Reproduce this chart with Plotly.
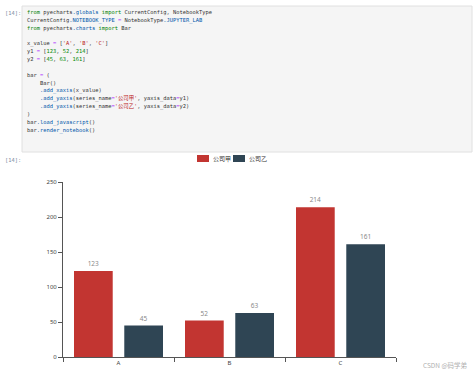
import plotly.graph_objects as go

# ---- data ----
x_value = ['A', 'B', 'C']
series_names = ['公司甲', '公司乙']
y1 = [123, 52, 214]
y2 = [45, 63, 161]
series_colors = ['#c23531', '#2f4554']
y_ticks = [0, 50, 100, 150, 200, 250]

W, H = 474, 372
L, R, T, B = 63, 396, 182, 357  # plot area in pixels


def px(x):
    return (x - L) / (R - L)


def py(y):
    return (B - y) / (B - T)


fig = go.Figure()
for name, vals, col in zip(series_names, [y1, y2], series_colors):
    fig.add_bar(
        x=x_value, y=vals, name=name, marker=dict(color=col, line=dict(width=0)),
        text=[str(v) for v in vals], textposition='outside',
        textfont=dict(size=6.5, color='#8a8a8a', family='Noto Sans, sans-serif'),
        cliponaxis=False, showlegend=False,
    )

MONO = 'DejaVu Sans Mono, Noto Sans CJK SC, monospace'


def K(t):
    return f'<span style="color:#008000">{t}</span>'


def P(t):
    return f'<span style="color:#0055aa">{t}</span>'


def O(t):
    return f'<span style="color:#aa22ff">{t}</span>'


def S(t):
    return f'<span style="color:#ba2121">{t}</span>'


def N(t):
    return f'<span style="color:#008800">{t}</span>'


code_lines = [
    (0, K('from') + ' pyecharts' + P('.globals') + ' ' + K('import') + ' CurrentConfig, NotebookType'),
    (0, 'CurrentConfig' + P('.NOTEBOOK_TYPE') + ' ' + O('=') + ' NotebookType' + P('.JUPYTER_LAB')),
    (0, K('from') + ' pyecharts' + P('.charts') + ' ' + K('import') + ' Bar'),
    None,
    (0, 'x_value ' + O('=') + ' [' + ', '.join(S(f"'{c}'") for c in x_value) + ']'),
    (0, 'y1 ' + O('=') + ' [' + ', '.join(N(str(v)) for v in y1) + ']'),
    (0, 'y2 ' + O('=') + ' [' + ', '.join(N(str(v)) for v in y2) + ']'),
    None,
    (0, 'bar ' + O('=') + ' ('),
    (1, 'Bar()'),
    (1, P('.add_xaxis') + '(x_value)'),
    (1, P('.add_yaxis') + '(series_name' + O('=') + S(f"'{series_names[0]}'") + ', yaxis_data' + O('=') + 'y1)'),
    (1, P('.add_yaxis') + '(series_name' + O('=') + S(f"'{series_names[1]}'") + ', yaxis_data' + O('=') + 'y2)'),
    (0, ')'),
    (0, 'bar' + P('.load_javascript') + '()'),
    (0, 'bar' + P('.render_notebook') + '()'),
]

shapes = []
annotations = []

# code cell background
shapes.append(dict(type='rect', xref='paper', yref='paper',
                   x0=px(22), x1=px(472), y0=py(6), y1=py(152),
                   fillcolor='#f5f5f5', line=dict(color='#e0e0e0', width=1), layer='below'))

for i, item in enumerate(code_lines):
    if item is None:
        continue
    ind, txt = item
    yy = 12.7 + i * 7.82
    annotations.append(dict(xref='paper', yref='paper', x=px(25 + ind * 13.2), y=py(yy),
                            xanchor='left', yanchor='middle', showarrow=False, text=txt,
                            font=dict(family=MONO, size=5.4, color='#333333')))

for yy in (12.7, 160):
    annotations.append(dict(xref='paper', yref='paper', x=px(3), y=py(yy),
                            xanchor='left', yanchor='middle', showarrow=False, text='[14]:',
                            font=dict(family=MONO, size=5.4, color='#7a8aa0')))

# legend (drawn manually)
leg = [(197, series_names[0], series_colors[0]), (233, series_names[1], series_colors[1])]
for x0, name, col in leg:
    shapes.append(dict(type='rect', xref='paper', yref='paper',
                       x0=px(x0), x1=px(x0 + 12), y0=py(155), y1=py(162),
                       fillcolor=col, line=dict(width=0)))
    annotations.append(dict(xref='paper', yref='paper', x=px(x0 + 14), y=py(158.5),
                            xanchor='left', yanchor='middle', showarrow=False, text=name,
                            font=dict(family='Noto Sans CJK SC', size=6, color='#333333')))

# watermark
annotations.append(dict(xref='paper', yref='paper', x=px(469), y=py(365),
                        xanchor='right', yanchor='middle', showarrow=False,
                        text='CSDN @码学弟',
                        font=dict(family='Noto Sans CJK SC', size=6.5, color='#b0b0b0')))

fig.update_layout(
    width=W, height=H,
    margin=dict(l=L, r=W - R, t=T, b=H - B, pad=0, autoexpand=False),
    paper_bgcolor='white', plot_bgcolor='white',
    barmode='group', bargap=0.094, bargroupgap=0.23,
    shapes=shapes, annotations=annotations,
    font=dict(family='Noto Sans, sans-serif'),
)
fig.update_xaxes(
    type='category', showline=True, linecolor='#555555', linewidth=1,
    ticks='outside', tickson='boundaries', ticklen=4, tickcolor='#555555',
    tickfont=dict(size=6, color='#444444'), showgrid=False, zeroline=False,
    automargin=False,
)
fig.update_yaxes(
    range=[0, 250], tickvals=y_ticks, showline=True, linecolor='#555555', linewidth=1,
    ticks='outside', ticklen=4, tickcolor='#555555',
    tickfont=dict(size=6, color='#444444'), showgrid=False, zeroline=False,
    automargin=False,
)

fig.write_html(
    'out.html',
    config={'displayModeBar': False},
    post_script="document.body.style.margin='0';document.body.style.overflow='hidden';",
)
